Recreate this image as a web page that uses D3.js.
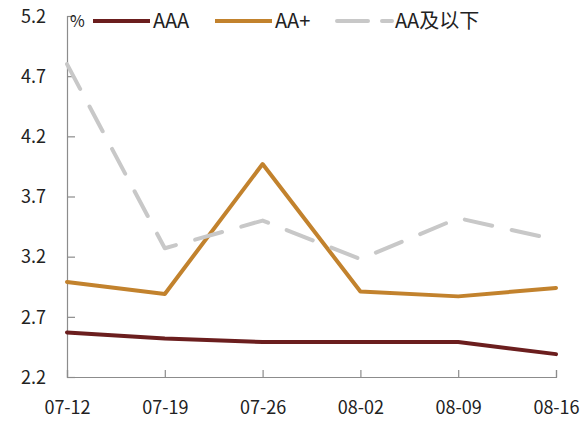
<!doctype html>
<html lang="zh">
  <head>
    <meta charset="utf-8">
    <title>信用利差</title>
    <style>
      body { margin: 0; background: #fff; }
      svg text { font-family: "Noto Sans CJK SC", "Noto Sans", sans-serif; fill: #222; }
    </style>
  </head>
  <body>
    <div id="chart"></div>

  <script src="https://d3js.org/d3.v7.min.js"></script>
  <script>
    // data
    var dates = ["07-12", "07-19", "07-26", "08-02", "08-09", "08-16"];
    var aaa = [2.57, 2.52, 2.49, 2.49, 2.49, 2.39];
    var aaPlus = [2.99, 2.89, 3.97, 2.91, 2.87, 2.94];
    var aaBelow = [4.80, 3.27, 3.50, 3.18, 3.52, 3.34];
    var yTicks = [2.2, 2.7, 3.2, 3.7, 4.2, 4.7, 5.2];
    var seriesNames = ["AAA", "AA+", "AA及以下"];

    var w = 585, h = 426;

    var svg = d3.select("#chart")
      .append("svg")
      .attr("width", w)
      .attr("height", h);

    var x = d3.scalePoint().domain(dates).range([67, 556]);
    var y = d3.scaleLinear().domain([2.2, 5.2]).range([377, 16]);

    // axes, ticks point inward
    var yAxis = svg.append("g")
      .attr("transform", "translate(67,0)")
      .call(d3.axisRight(y).tickValues(yTicks).tickSize(8));
    yAxis.selectAll("text").remove();
    yAxis.selectAll(".tick").append("text")
      .attr("x", -21)
      .attr("dy", "0.35em")
      .attr("text-anchor", "end")
      .style("font-size", "18px")
      .text(function(d) { return d.toFixed(1); });

    var xAxis = svg.append("g")
      .attr("transform", "translate(0,377)")
      .call(d3.axisTop(x).tickSize(7));
    xAxis.selectAll("text").remove();
    xAxis.selectAll(".tick").append("text")
      .attr("y", 37)
      .attr("text-anchor", "middle")
      .style("font-size", "18px")
      .text(function(d) { return d; });

    svg.selectAll(".domain, .tick line")
      .attr("stroke", "#8c8c8c")
      .attr("stroke-width", 1.2);

    var series = [
      { name: seriesNames[0], values: aaa, color: "#6b1e1e", dash: null },
      { name: seriesNames[1], values: aaPlus, color: "#c2822d", dash: null },
      { name: seriesNames[2], values: aaBelow, color: "#c8c8c8", dash: "28,20" }
    ];

    var line = d3.line()
      .x(function(d, i) { return x(dates[i]); })
      .y(function(d) { return y(d); });

    series.forEach(function(s) {
      svg.append("path")
        .attr("d", line(s.values))
        .attr("fill", "none")
        .attr("stroke", s.color)
        .attr("stroke-width", 4)
        .attr("stroke-linejoin", "round")
        .attr("stroke-linecap", "round")
        .attr("stroke-dasharray", s.dash);
    });

    // legend
    svg.append("text")
      .attr("x", 70)
      .attr("y", 27)
      .style("font-size", "16px")
      .text("%");

    var legendX = [93, 215, 335];
    series.forEach(function(s, i) {
      svg.append("line")
        .attr("x1", legendX[i] + (s.dash ? 2 : 0))
        .attr("x2", legendX[i] + 57)
        .attr("y1", 21)
        .attr("y2", 21)
        .attr("stroke", s.color)
        .attr("stroke-width", 4)
        .attr("stroke-linecap", s.dash ? "round" : "butt")
        .attr("stroke-dasharray", s.dash ? "31,14" : null);
      svg.append("text")
        .attr("x", legendX[i] + 60)
        .attr("y", 28)
        .style("font-size", "20px")
        .text(s.name);
    });
  </script>
  </body>
</html>
